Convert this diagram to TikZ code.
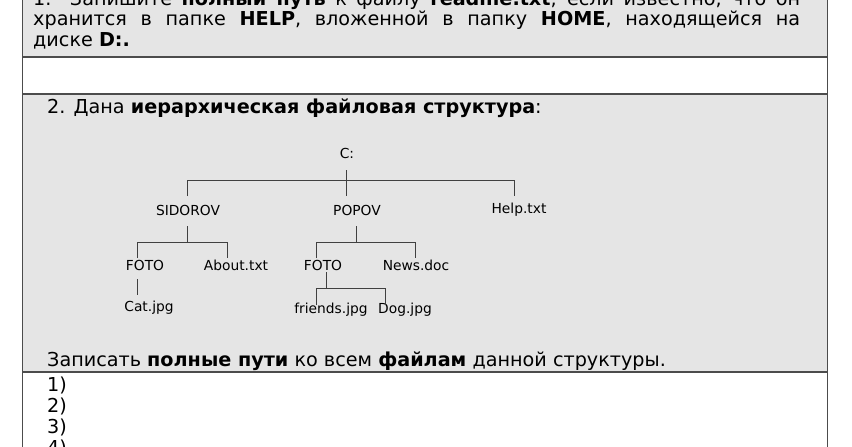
\documentclass[tikz,border=0pt]{standalone}
\usepackage{fontspec}
\setmainfont{DejaVu Sans}
\begin{document}
\begin{tikzpicture}[x=1pt,y=-1pt,
  lbl/.style={font=\fontsize{13.8}{15}\selectfont,inner sep=0pt,anchor=center},
  big/.style={font=\fontsize{19.2}{22}\selectfont,inner sep=0pt,anchor=west},
  ln/.style={draw=black!75,line width=1pt}]
\useasboundingbox (0,0) rectangle (852,447);
\fill[white] (0,0) rectangle (852,447);
\fill[black!10] (22,0) rectangle (827,57);
\fill[black!10] (22,94) rectangle (827,372);
\draw[black!70,line width=1pt] (22,0) -- (22,447) (827,0) -- (827,447);
\draw[black!70,line width=1.2pt] (22,57) -- (827,57) (22,94) -- (827,94) (22,372) -- (827,372);
% top text
\begin{scope}
\clip (0,0) rectangle (852,447);
\node[big] (t1) at (33,0) {\makebox[767pt][s]{1. Запишите \textbf{полный путь} к файлу \textbf{readme.txt}, если известно, что он}};
\node[big] (t2) at (33,20) {\makebox[767pt][s]{хранится в папке \textbf{HELP}, вложенной в папку \textbf{HOME}, находящейся на}};
\node[big] (t3) at (33,41) {диске \textbf{D:.}};
\end{scope}
\node[big] (h2) at (47,108) {2. Дана \textbf{иерархическая файловая структура}:};
\node[big] (h3) at (47,361) {Записать \textbf{полные пути} ко всем \textbf{файлам} данной структуры.};
\node[big] (n1) at (47,385) {1)};
\node[big] (n2) at (47,406) {2)};
\node[big] (n3) at (47,427) {3)};
\node[big] (n4) at (47,448) {4)};
% tree
\node[lbl] (c) at (347,153) {C:};
\node[lbl] (sid) at (188,210) {SIDOROV};
\node[lbl] (pop) at (357,210) {POPOV};
\node[lbl] (help) at (519,210) {Help.txt};
\node[lbl] (f1) at (145,265) {FOTO};
\node[lbl] (ab) at (236,265) {About.txt};
\node[lbl] (f2) at (323,265) {FOTO};
\node[lbl] (news) at (416,265) {News.doc};
\node[lbl] (cat) at (149,308) {Cat.jpg};
\node[lbl] (fr) at (331,310) {friends.jpg};
\node[lbl] (dog) at (405,310) {Dog.jpg};
\draw[ln] (346,170) -- (346,196);
\draw[ln] (187,196) -- (187,180) -- (514,180) -- (514,196);
\draw[ln] (187,226) -- (187,242);
\draw[ln] (137,258) -- (137,242) -- (227,242) -- (227,258);
\draw[ln] (356,226) -- (356,242);
\draw[ln] (316,258) -- (316,242) -- (415,242) -- (415,258);
\draw[ln] (137,279) -- (137,295);
\draw[ln] (326,272) -- (326,288);
\draw[ln] (316,305) -- (316,288) -- (385,288) -- (385,305);
\end{tikzpicture}
\end{document}
